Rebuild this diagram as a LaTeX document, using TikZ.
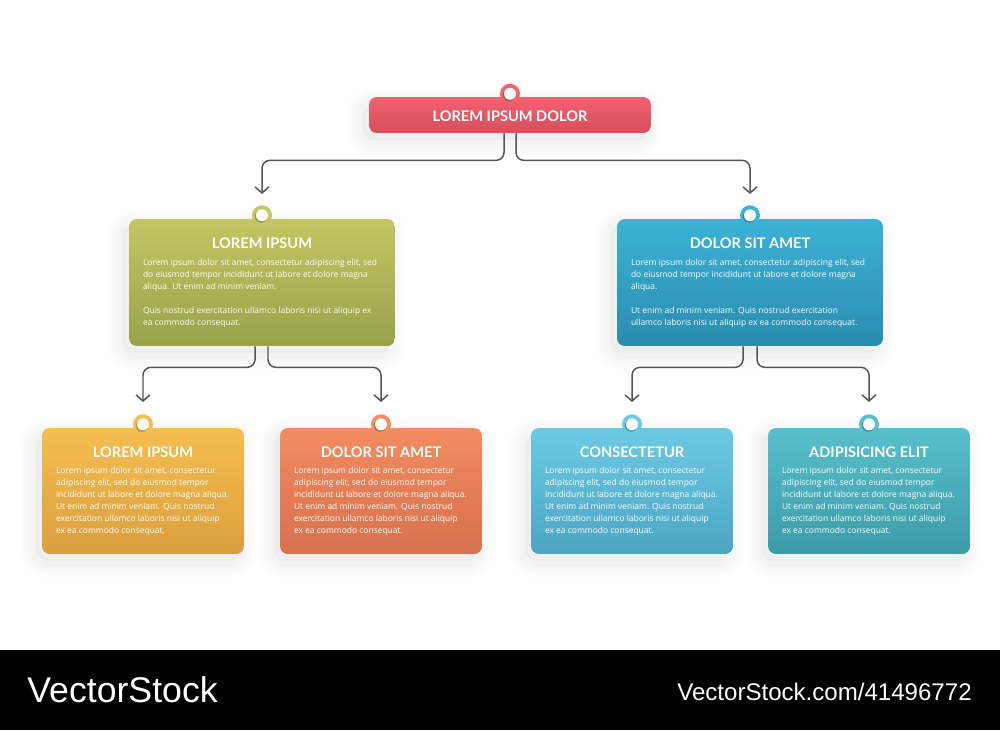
\documentclass[tikz,border=0pt]{standalone}
\usepackage{fontspec}
\setmainfont{Open Sans}
\newfontfamily\headfont{Lato}
\newfontfamily\brandfont{Liberation Sans}
\usetikzlibrary{positioning,arrows.meta,backgrounds}

\definecolor{redtop}{HTML}{F2626F}
\definecolor{redbot}{HTML}{D84E5D}
\definecolor{olivetop}{HTML}{C4C663}
\definecolor{olivebot}{HTML}{9AA14A}
\definecolor{bluetop}{HTML}{3CB2D6}
\definecolor{bluebot}{HTML}{2A8CAF}
\definecolor{yellowtop}{HTML}{F5BE50}
\definecolor{yellowbot}{HTML}{D99F3E}
\definecolor{orangetop}{HTML}{F38C60}
\definecolor{orangebot}{HTML}{D7704E}
\definecolor{skytop}{HTML}{6DCAE4}
\definecolor{skybot}{HTML}{4DA5C3}
\definecolor{tealtop}{HTML}{58C0CB}
\definecolor{tealbot}{HTML}{3C9BA8}
\definecolor{linkgray}{HTML}{555555}

\tikzset{
  box/.style={rounded corners=4.5pt, inner sep=0pt},
  rootbox/.style={box, minimum width=5.64cm, minimum height=0.72cm},
  midbox/.style={box, minimum width=5.32cm, minimum height=2.54cm},
  lowbox/.style={box, minimum width=4.04cm, minimum height=2.52cm},
  heading/.style={text=white, inner sep=0pt, font=\headfont\bfseries\fontsize{8.3}{10}\selectfont},
  blurb/.style={text=white, anchor=north west, inner sep=0pt, align=left,
    font=\fontsize{4.82}{6.8}\selectfont},
  link/.style={draw=linkgray, line width=0.85pt, rounded corners=4.5pt,
    -{Straight Barb[length=3.5pt,width=8pt]}},
  pin/.style={circle, inner sep=0pt, minimum size=0.4cm},
  pinhead/.style={circle, fill=white, inner sep=0pt, minimum size=0.24cm},
  softshadow/.style={black, rounded corners=6pt},
}

\newcommand{\lowtext}{Lorem ipsum dolor sit amet, consectetur\\
adipiscing elit, sed do eiusmod tempor\\
incididunt ut labore et dolore magna aliqua.\\
Ut enim ad minim veniam. Quis nostrud\\
exercitation ullamco laboris nisi ut aliquip\\
ex ea commodo consequat.}

\begin{document}
\begin{tikzpicture}[x=0.02cm, y=-0.02cm]
  \useasboundingbox (0,0) rectangle (1000,730);

  % boxes
  \node[rootbox, top color=redtop, bottom color=redbot] (root) at (510,115) {};
  \node[midbox, top color=olivetop, bottom color=olivebot] (lm) at (262,282.5) {};
  \node[midbox, top color=bluetop, bottom color=bluebot] (rm) at (750,282.5) {};
  \node[lowbox, top color=yellowtop, bottom color=yellowbot] (ll) at (143,491) {};
  \node[lowbox, top color=orangetop, bottom color=orangebot] (lr) at (381,491) {};
  \node[lowbox, top color=skytop, bottom color=skybot] (rl) at (632,491) {};
  \node[lowbox, top color=tealtop, bottom color=tealbot] (rr) at (869,491) {};

  % pins
  \node[pin, fill=redtop, above=-0.15cm of root.north] (rootpin) {};
  \node[pin, fill=olivetop, above=-0.14cm of lm.north] (lmpin) {};
  \node[pin, fill=bluetop, above=-0.14cm of rm.north] (rmpin) {};
  \node[pin, fill=yellowtop, above=-0.14cm of ll.north] (llpin) {};
  \node[pin, fill=orangetop, above=-0.14cm of lr.north] (lrpin) {};
  \node[pin, fill=skytop, above=-0.14cm of rl.north] (rlpin) {};
  \node[pin, fill=tealtop, above=-0.14cm of rr.north] (rrpin) {};
  \foreach \p in {rootpin,lmpin,rmpin,llpin,lrpin,rlpin,rrpin}{
    \fill[black, opacity=0.25] ([shift={(-0.5pt,-0.7pt)}]\p) circle (0.125cm);
    \node[pinhead] at (\p) {};
  }

  % headings
  \node[heading] at ([yshift=-0.02cm]root.center) {LOREM IPSUM DOLOR};
  \node[heading, below=0.5cm of lm.north, anchor=center] {LOREM IPSUM};
  \node[heading, below=0.5cm of rm.north, anchor=center] {DOLOR SIT AMET};
  \node[heading, below=0.5cm of ll.north, anchor=center] {LOREM IPSUM};
  \node[heading, below=0.5cm of lr.north, anchor=center] {DOLOR SIT AMET};
  \node[heading, below=0.5cm of rl.north, anchor=center] {CONSECTETUR};
  \node[heading, below=0.5cm of rr.north, anchor=center] {ADIPISICING ELIT};

  % texts
  \node[blurb] at ([xshift=0.28cm, yshift=-0.8cm]lm.north west)
    {Lorem ipsum dolor sit amet, consectetur adipiscing elit, sed\\
     do eiusmod tempor incididunt ut labore et dolore magna\\
     aliqua. Ut enim ad minim veniam.\\[6.8pt]
     Quis nostrud exercitation ullamco laboris nisi ut aliquip ex\\
     ea commodo consequat.};
  \node[blurb] at ([xshift=0.28cm, yshift=-0.8cm]rm.north west)
    {Lorem ipsum dolor sit amet, consectetur adipiscing elit, sed\\
     do eiusmod tempor incididunt ut labore et dolore magna\\
     aliqua.\\[6.8pt]
     Ut enim ad minim veniam. Quis nostrud exercitation\\
     ullamco laboris nisi ut aliquip ex ea commodo consequat.};
  \foreach \b in {ll,lr,rl,rr}
    \node[blurb] at ([xshift=0.28cm, yshift=-0.78cm]\b.north west) {\lowtext};

  % connectors
  \draw[link] ([xshift=-0.12cm]root.south) -- ++(0,27) -| ([yshift=0.22cm]lmpin.north);
  \draw[link] ([xshift=0.12cm]root.south) -- ++(0,27) -| ([yshift=0.22cm]rmpin.north);
  \draw[link] ([xshift=-0.14cm]lm.south) -- ++(0,21) -| ([yshift=0.24cm]llpin.north);
  \draw[link] ([xshift=0.12cm]lm.south) -- ++(0,21) -| ([yshift=0.24cm]lrpin.north);
  \draw[link] ([xshift=-0.14cm]rm.south) -- ++(0,21) -| ([yshift=0.24cm]rlpin.north);
  \draw[link] ([xshift=0.14cm]rm.south) -- ++(0,21) -| ([yshift=0.24cm]rrpin.north);

  % soft shadows behind the boxes
  \begin{scope}[on background layer]
    \fill[white] (0,0) rectangle (1000,730);
    \foreach \b in {root,lm,rm,ll,lr,rl,rr}
      \foreach \w in {18pt,15pt,12pt,9pt,6pt,3pt}
        \filldraw[softshadow, fill opacity=0.005, draw opacity=0.009, line width=\w]
          ([shift={(-3pt,-4pt)}]\b.north west) rectangle ([shift={(-3pt,-4pt)}]\b.south east);
  \end{scope}

  % footer band
  \fill[black] (0,650) rectangle (1000,730);
  \node[anchor=west, text=white, inner sep=0pt, font=\brandfont\fontsize{20.3}{24}\selectfont]
    (brand) at (27,690) {VectorStock};
  \node[anchor=east, text=white, inner sep=0pt, font=\brandfont\fontsize{13.7}{16}\selectfont]
    (ref) at (972,692) {VectorStock.com/41496772};
\end{tikzpicture}
\end{document}
